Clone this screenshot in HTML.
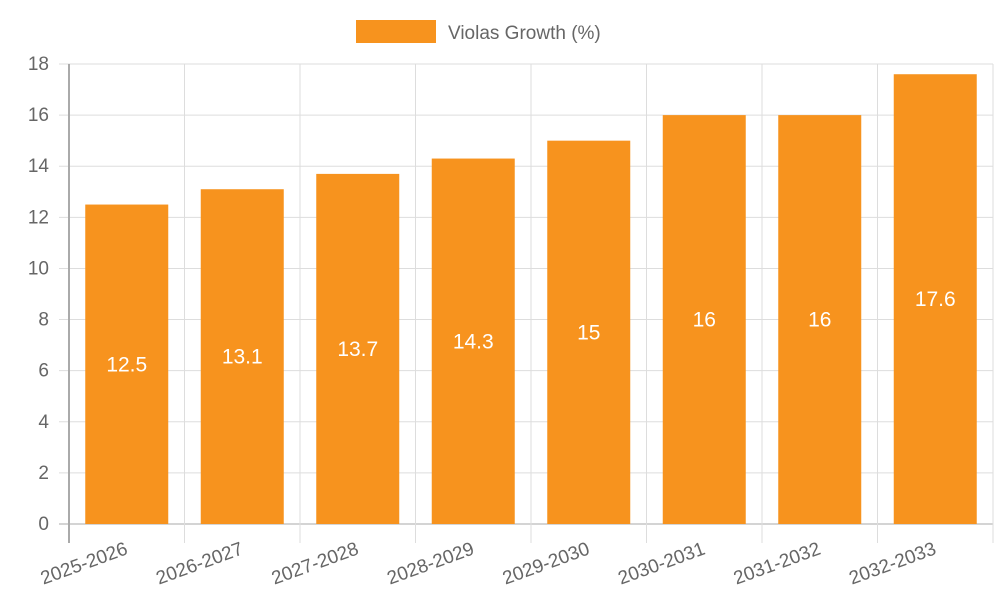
<!DOCTYPE html>
<html><head><meta charset="utf-8"><style>
body{margin:0;background:#fff;}
svg text{font-family:"Liberation Sans",sans-serif;}
</style></head><body>
<svg width="1000" height="600">
<g id="legend">
<rect x="356" y="20" width="80" height="23" fill="#f7931e"/>
<text x="448" y="39" font-size="19" fill="#666">Violas Growth (%)</text>
</g>
<g id="grid"></g><g id="bars"></g><g id="axes"></g>
</svg>
<script>
const categories=["2025-2026","2026-2027","2027-2028","2028-2029","2029-2030","2030-2031","2031-2032","2032-2033"];
const values=[12.5,13.1,13.7,14.3,15,16,16,17.6];
const yTicks=[0,2,4,6,8,10,12,14,16,18];
const L=69,R=993,T=64,B=524,yMax=18;
const ns="http://www.w3.org/2000/svg";
const step=(R-L)/categories.length;
const y=v=>B-(v/yMax)*(B-T);
const x=i=>L+step*i;
function mk(tag,attrs,parent,text){const e=document.createElementNS(ns,tag);for(const k in attrs)e.setAttribute(k,attrs[k]);if(text!==undefined)e.textContent=text;document.getElementById(parent).appendChild(e);return e;}
yTicks.forEach(t=>{
 const g=mk('line',{x1:L-10,x2:R,y1:y(t),y2:y(t),stroke:t===0?'#aaa':'#ddd','stroke-width':1},'grid');
 
 
 const lb=mk('text',{x:L-20,y:y(t)+6,'text-anchor':'end','font-size':19,fill:'#666'},'axes',t);
 
 
});
for(let i=0;i<=categories.length;i++){
 const g=mk('line',{x1:x(i),x2:x(i),y1:T,y2:B+19,stroke:i===0?'#aaa':'#ddd','stroke-width':i===0?2:1},'grid');
 
 
}
categories.forEach((c,i)=>{
 const cx=x(i)+step/2,bw=83;
 const r=mk('rect',{x:cx-bw/2,y:y(values[i]),width:bw,height:B-y(values[i]),fill:'#f7931e'},'bars');
 
 
 const v=mk('text',{x:cx,y:(y(values[i])+B)/2+7,'text-anchor':'middle','font-size':21,fill:'#fff'},'bars',values[i]);
 
 
 const lb=mk('text',{x:cx,y:B+30,'text-anchor':'end','font-size':19,fill:'#666',transform:`rotate(-20 ${cx} ${B+24})`},'axes',c);
 
 
});
</script>
</body></html>
